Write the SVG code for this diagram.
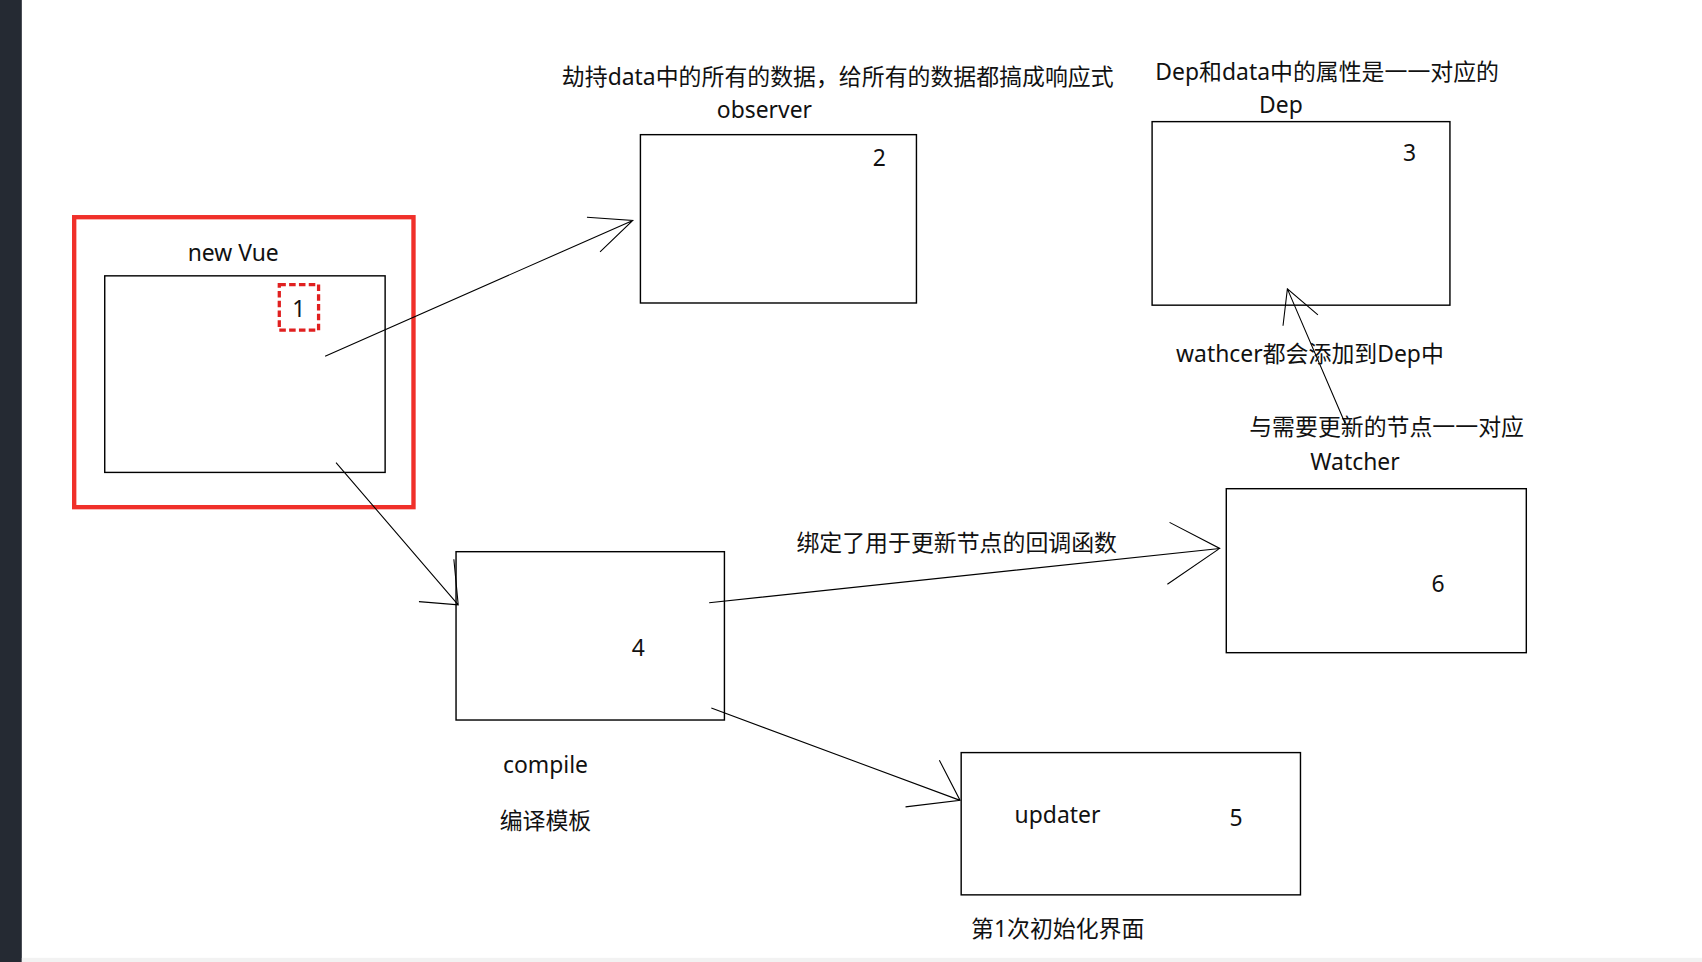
<svg xmlns="http://www.w3.org/2000/svg" width="1702" height="962" viewBox="0 0 1702 962">
<style>
.b{fill:none;stroke:#000;stroke-width:1.3}
.c{fill:none;stroke:#000;stroke-width:1}
text{font-family:"Noto Sans","Noto Sans CJK SC",sans-serif;font-size:21px;fill:#111}
</style>
<rect width="1702" height="962" fill="#fff"/>
<g transform="scale(1.091,1.086)">
<rect x="0" y="0" width="20" height="886" fill="#252a33"/>
<g id="n1">
<rect x="68" y="200" width="311" height="267" fill="none" stroke="#f0302a" stroke-width="4"/>
<text x="172" y="240">new Vue</text>
<rect class="b" x="96" y="254" width="257" height="181"/>
<rect x="256" y="262" width="36" height="42" fill="none" stroke="#e02020" stroke-width="3" stroke-dasharray="6,3"/>
<text x="274" y="292" text-anchor="middle">1</text>
</g>
<g id="n2">
<text x="515" y="78">劫持data中的所有的数据，给所有的数据都搞成响应式</text>
<text x="657" y="109">observer</text>
<rect class="b" x="587" y="124" width="253" height="155"/>
<text x="800" y="153">2</text>
</g>
<g id="n3">
<text x="1059" y="74">Dep和data中的属性是一一对应的</text>
<text x="1154" y="104">Dep</text>
<rect class="b" x="1056" y="112" width="273" height="169"/>
<text x="1286" y="148">3</text>
</g>
<g id="n6">
<text x="1145" y="401">与需要更新的节点一一对应</text>
<text x="1201" y="433">Watcher</text>
<rect class="b" x="1124" y="450" width="275" height="151"/>
<text x="1312" y="545">6</text>
</g>
<g id="n4">
<rect class="b" x="418" y="508" width="246" height="155"/>
<text x="579" y="604">4</text>
<text x="461" y="712">compile</text>
<text x="458" y="763">编译模板</text>
</g>
<g id="n5">
<rect class="b" x="881" y="693" width="311" height="131"/>
<text x="930" y="758">updater</text>
<text x="1127" y="761">5</text>
<text x="890" y="863">第1次初始化界面</text>
</g>
<g id="connectors">
<path class="c" d="M298 328 L580 203 M538 200 L580 203 L550 232"/>
<path class="c" d="M308 426 L420 557 M384 554 L420 557 L416 515"/>
<path class="c" d="M650 555 L1118 505 M1072 481 L1118 505 L1070 538"/>
<path class="c" d="M652 652 L880 737 M830 743 L880 737 L861 700"/>
<path class="c" d="M1233 390 L1180 266 M1176 300 L1180 266 L1208 290"/>
<text x="1078" y="333">wathcer都会添加到Dep中</text>
<text x="730" y="507">绑定了用于更新节点的回调函数</text>
</g>
<rect x="20" y="882" width="1540" height="4" fill="#f2f2f2"/>
</g>
</svg>
